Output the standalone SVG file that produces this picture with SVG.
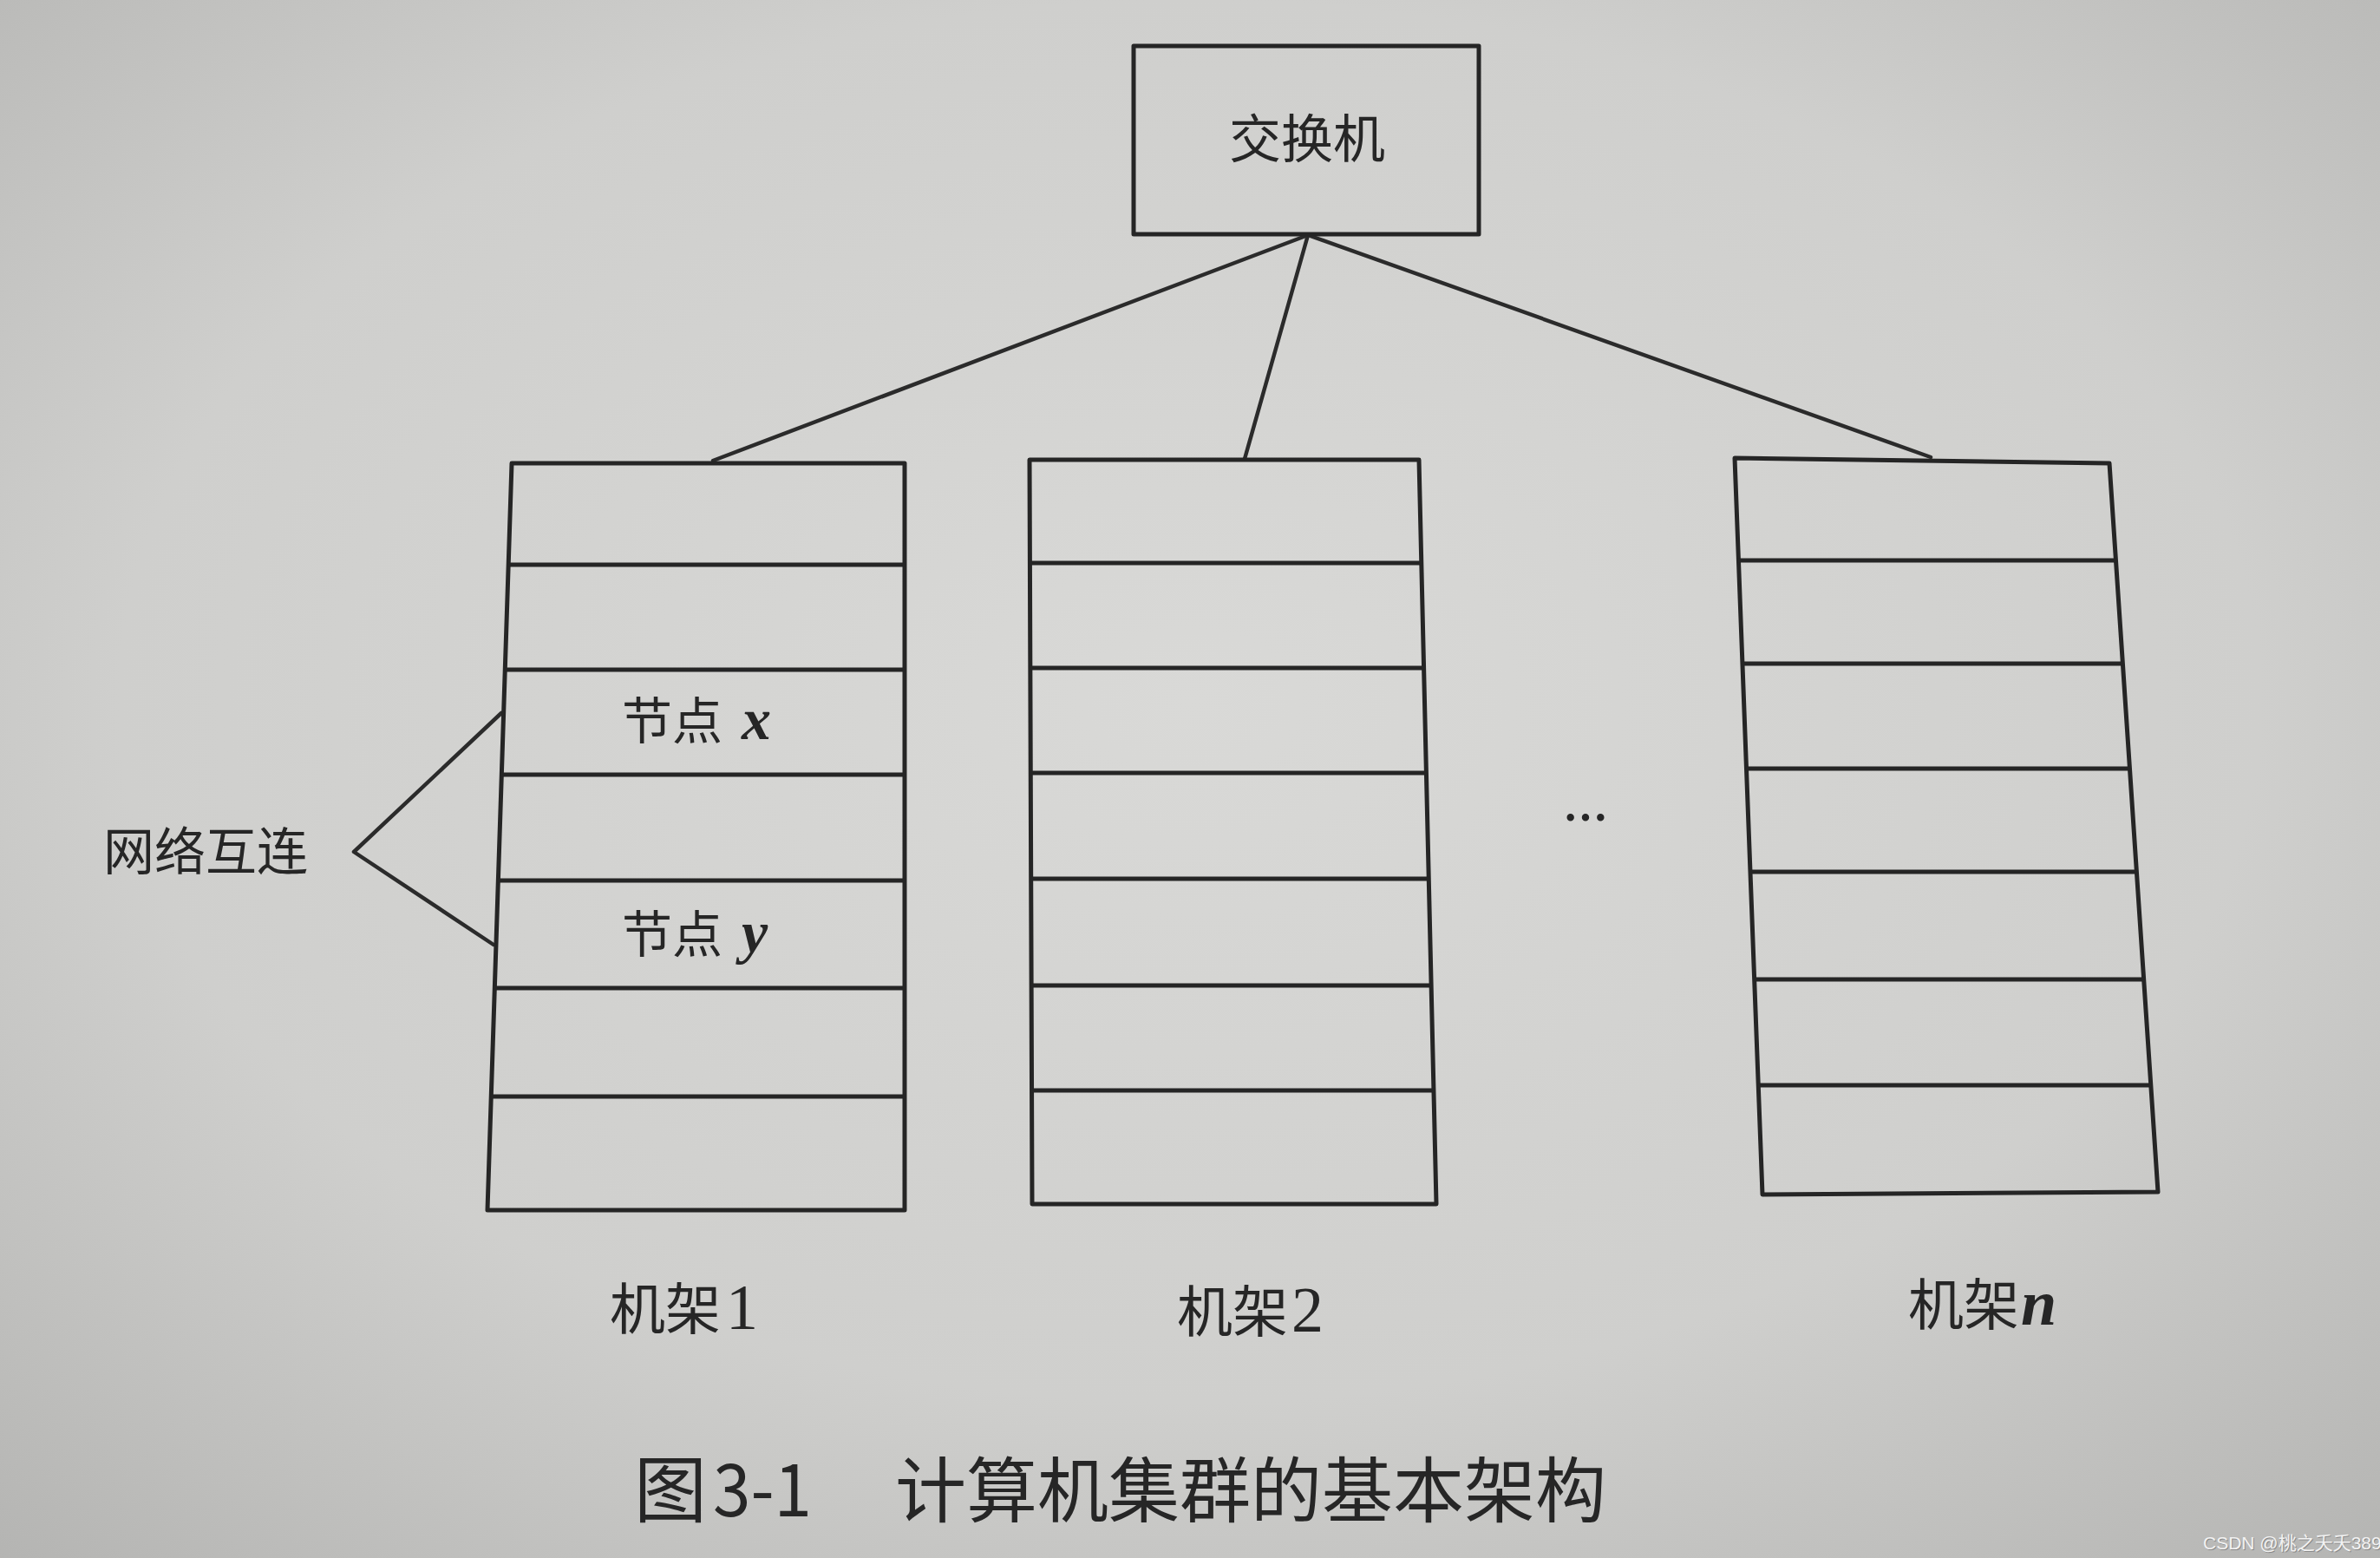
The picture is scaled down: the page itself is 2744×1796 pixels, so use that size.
<svg xmlns="http://www.w3.org/2000/svg" width="2744" height="1796" viewBox="0 0 2744 1796">
<defs>
<radialGradient id="paper" cx="0.5" cy="0.45" r="0.75">
<stop offset="0" stop-color="#d9d9d7"/>
<stop offset="0.6" stop-color="#cfcfcd"/>
<stop offset="1" stop-color="#b4b4b2"/>
</radialGradient>
<style>
.ln{stroke:#2b2b2b;stroke-width:4.5;fill:none;stroke-linecap:round;stroke-linejoin:round}
.rk{stroke:#252525;stroke-width:5;fill:none;stroke-linejoin:round}
.cjk{font-family:"Noto Sans CJK SC","Noto Sans",sans-serif;fill:#262626}
.ser{font-family:"Liberation Serif","Noto Sans CJK SC",serif}
.it{font-style:italic;font-family:"Liberation Serif",serif;font-weight:bold}
</style>
</defs>
<rect width="2744" height="1796" fill="url(#paper)"/>

<g id="connectors">
<line class="ln" x1="1508" y1="271" x2="822" y2="531"/>
<line class="ln" x1="1508" y1="271" x2="1435" y2="529"/>
<line class="ln" x1="1508" y1="271" x2="2226" y2="527"/>
<polyline class="ln" points="578,822 408,982 569,1089"/>
</g>

<g id="switch">
<rect class="rk" x="1307" y="53" width="398" height="217"/>
<text class="cjk" x="1507" y="182" font-size="60" text-anchor="middle">交换机</text>
</g>

<g id="rack1">
<polygon class="rk" points="590,534 1043,534 1043,1395 562,1395"/>
<line class="rk" x1="586" y1="651" x2="1043" y2="651"/>
<line class="rk" x1="582" y1="772" x2="1043" y2="772"/>
<line class="rk" x1="578" y1="893" x2="1043" y2="893"/>
<line class="rk" x1="574" y1="1015" x2="1043" y2="1015"/>
<line class="rk" x1="570" y1="1139" x2="1043" y2="1139"/>
<line class="rk" x1="566" y1="1264" x2="1043" y2="1264"/>
<text class="cjk" x="717" y="852" font-size="58">节点<tspan class="it" font-size="68" dx="22">x</tspan></text>
<text class="cjk" x="717" y="1098" font-size="58">节点<tspan class="it" font-size="68" dx="22">y</tspan></text>
<text class="cjk" x="703" y="1532" font-size="64">机架<tspan class="ser" font-size="74" dx="6">1</tspan></text>
</g>

<g id="rack2">
<polygon class="rk" points="1187,530 1636,530 1656,1388 1190,1388"/>
<line class="rk" x1="1187" y1="649" x2="1639" y2="649"/>
<line class="rk" x1="1188" y1="770" x2="1642" y2="770"/>
<line class="rk" x1="1188" y1="891" x2="1644" y2="891"/>
<line class="rk" x1="1189" y1="1013" x2="1647" y2="1013"/>
<line class="rk" x1="1189" y1="1136" x2="1650" y2="1136"/>
<line class="rk" x1="1190" y1="1257" x2="1653" y2="1257"/>
<text class="cjk" x="1357" y="1535" font-size="64">机架<tspan class="ser" font-size="74" dx="4">2</tspan></text>
</g>

<g id="rackn">
<polygon class="rk" points="2000,528 2432,534 2488,1374 2032,1377"/>
<line class="rk" x1="2004" y1="646" x2="2440" y2="646"/>
<line class="rk" x1="2009" y1="765" x2="2448" y2="765"/>
<line class="rk" x1="2013" y1="886" x2="2456" y2="886"/>
<line class="rk" x1="2018" y1="1005" x2="2464" y2="1005"/>
<line class="rk" x1="2023" y1="1129" x2="2472" y2="1129"/>
<line class="rk" x1="2027" y1="1251" x2="2480" y2="1251"/>
<text class="cjk" x="2200" y="1527" font-size="64">机架<tspan class="it" font-size="74" dx="2">n</tspan></text>
</g>

<g id="ellipsis">
<text class="cjk" x="1828" y="962" font-size="52" font-weight="bold" text-anchor="middle">…</text>
</g>

<g id="network">
<text class="cjk" x="119" y="1003" font-size="59">网络互连</text>
</g>

<g id="caption">
<text class="cjk" x="731" y="1748" font-size="84">图</text>
<text class="cjk" x="822" y="1748" font-size="84" textLength="114" lengthAdjust="spacingAndGlyphs">3-1</text>
<text class="cjk" x="1032" y="1748" font-size="82">计算机集群的基本架构</text>
</g>

<g id="watermark">
<text x="2541" y="1787" font-size="21" font-family="Liberation Sans,Noto Sans CJK SC,sans-serif" fill="#8a8a8a">CSDN @桃之夭夭389</text>
<text x="2540" y="1786" font-size="21" font-family="Liberation Sans,Noto Sans CJK SC,sans-serif" fill="#f2f2f2">CSDN @桃之夭夭389</text>
</g>
</svg>
